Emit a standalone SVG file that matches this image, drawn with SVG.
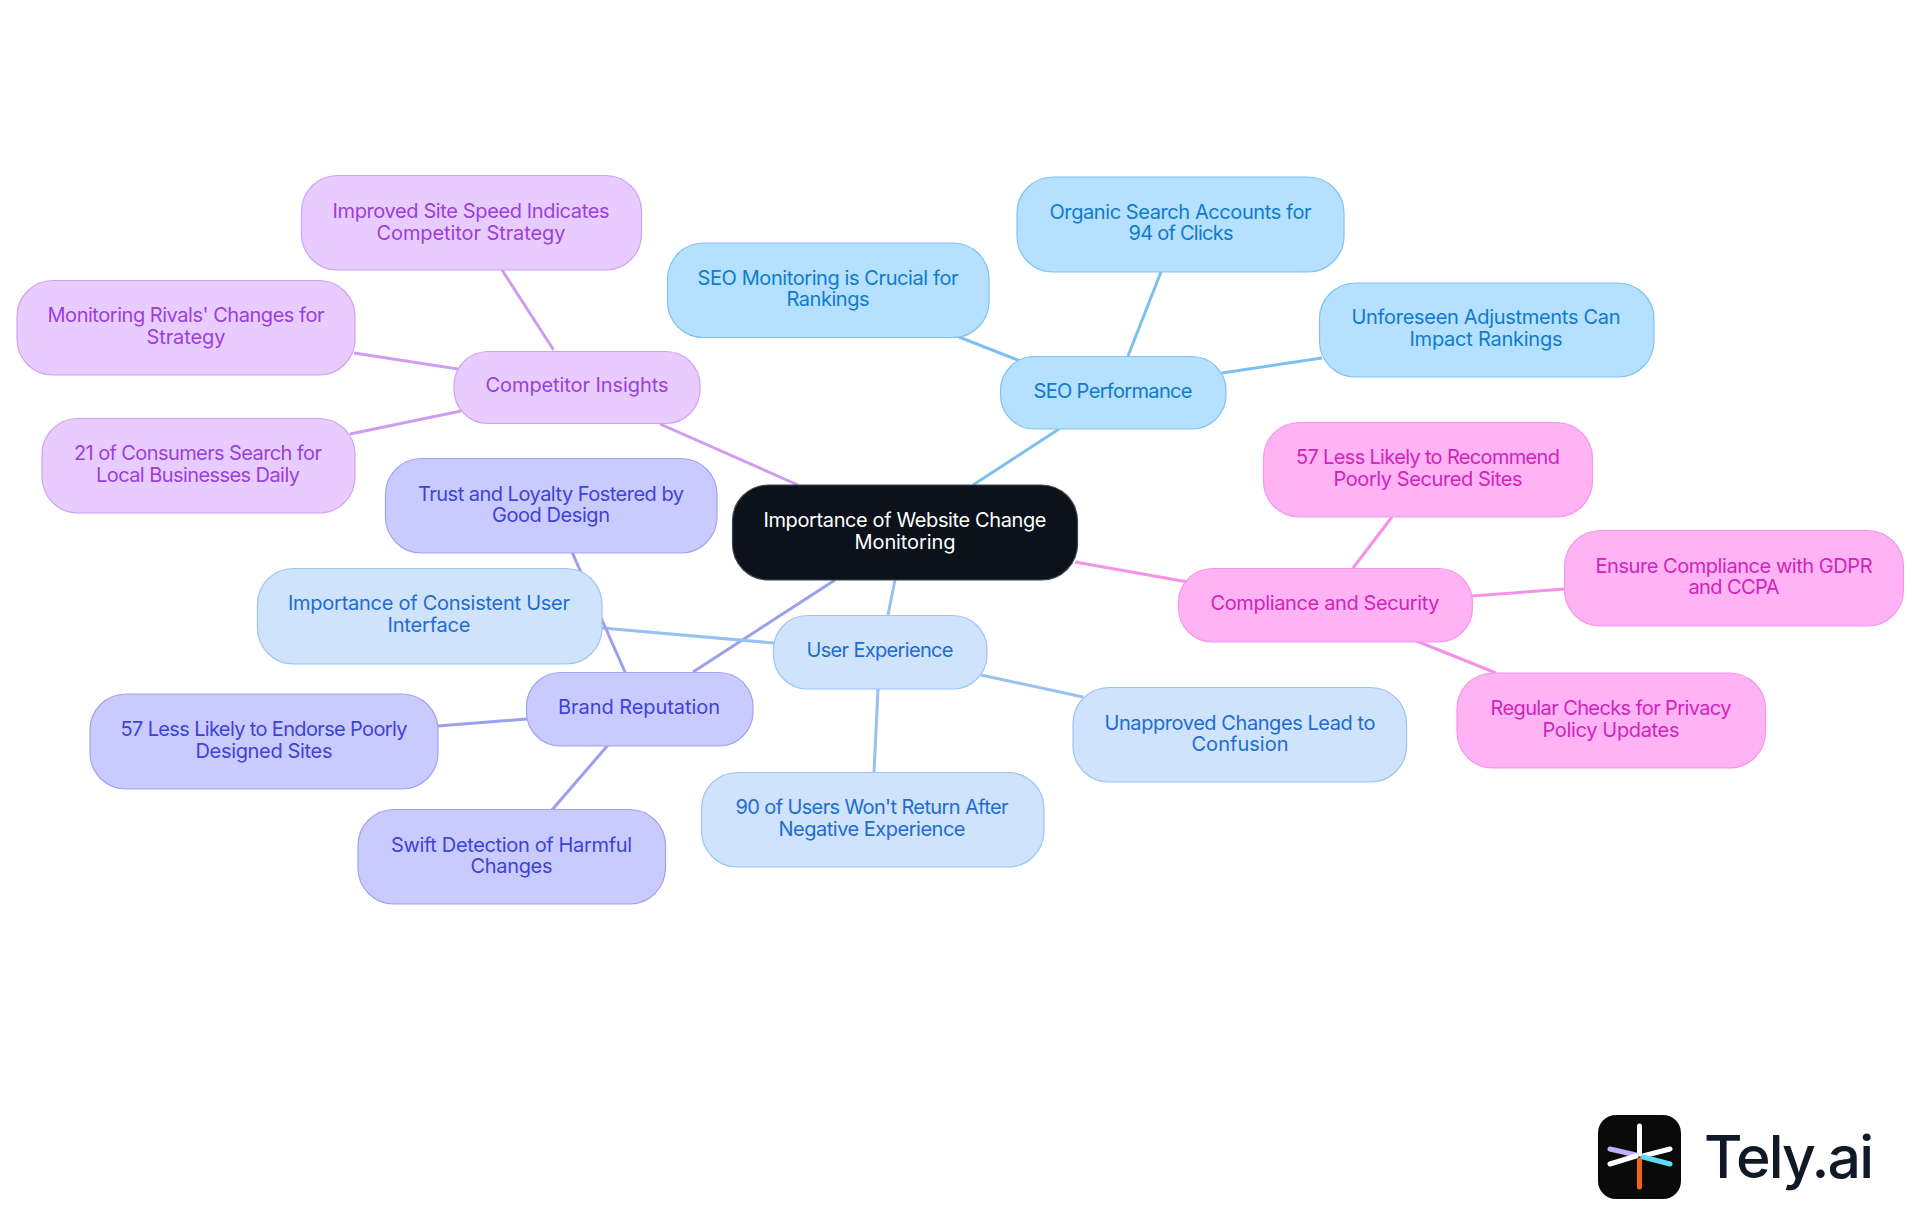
<svg xmlns="http://www.w3.org/2000/svg" width="1920" height="1215" viewBox="0 0 1920 1215">
<style>
text{font-family:"Inter","Noto Sans","Liberation Sans",sans-serif;font-size:20px;font-weight:400;text-anchor:middle}
rect{stroke-width:1.2}
#connectors line{stroke-width:3;fill:none}
.root rect{fill:#0b121b;stroke:#3f444b}.root text{fill:#fff}
.pu rect{fill:#e9ccff;stroke:#d0a2f2}.pu text{fill:#9a3fdc}
.se rect{fill:#b5e0ff;stroke:#80c2f0}.se text{fill:#0f7bcc}
.ux rect{fill:#cfe3fc;stroke:#9cc4f3}.ux text{fill:#216cd0}
.pk rect{fill:#ffb3f5;stroke:#f596e6}.pk text{fill:#d024bc}
.in rect{fill:#c9cbff;stroke:#a0a3f0}.in text{fill:#3f42d6}
.lp{stroke:#cf9df0}.ls{stroke:#7cc0f0}.lu{stroke:#97c1f2}.lk{stroke:#f592e6}.li{stroke:#9b9fee}
</style>
<rect width="1920" height="1215" fill="#fff" stroke="none"/>
<g id="connectors">
<line class="lp" x1="660" y1="424" x2="798" y2="485"/>
<line class="ls" x1="973" y1="485" x2="1059" y2="429"/>
<line class="lk" x1="1075" y1="562" x2="1188" y2="582"/>
<line class="lu" x1="895" y1="580" x2="888" y2="615"/>
<line class="li" x1="835" y1="580" x2="693" y2="672"/>
<line class="lp" x1="502" y1="270" x2="553.6" y2="350"/>
<line class="lp" x1="354" y1="353" x2="458" y2="369"/>
<line class="lp" x1="350" y1="434" x2="461" y2="411"/>
<line class="ls" x1="959" y1="337" x2="1020" y2="361"/>
<line class="ls" x1="1161" y1="272" x2="1128" y2="356"/>
<line class="ls" x1="1222" y1="373" x2="1322" y2="358"/>
<line class="lk" x1="1392" y1="517" x2="1353" y2="568"/>
<line class="lk" x1="1472" y1="596" x2="1565" y2="589"/>
<line class="lk" x1="1414" y1="640" x2="1496" y2="673"/>
<line class="lu" x1="602" y1="628" x2="774" y2="643"/>
<line class="lu" x1="981" y1="675" x2="1083" y2="697"/>
<line class="lu" x1="878" y1="689" x2="874" y2="772"/>
<line class="li" x1="572" y1="552" x2="625" y2="672"/>
<line class="li" x1="438" y1="726" x2="527" y2="719"/>
<line class="li" x1="608" y1="745" x2="552" y2="810"/>
</g>
<g id="n-root" class="root"><rect x="732.500" y="485" width="345" height="95" rx="36"/><text x="905" y="527" textLength="283">Importance of Website Change</text><text x="905" y="549" textLength="101">Monitoring</text></g>
<g id="n-competitor" class="pu"><rect x="454" y="351.500" width="246" height="72" rx="34"/><text x="577" y="392" textLength="183">Competitor Insights</text></g>
<g id="n-improved" class="pu"><rect x="301.500" y="175.500" width="340" height="94.500" rx="36"/><text x="471" y="218" textLength="277">Improved Site Speed Indicates</text><text x="471" y="239.500" textLength="189">Competitor Strategy</text></g>
<g id="n-rivals" class="pu"><rect x="17" y="280.500" width="338" height="94.500" rx="36"/><text x="186" y="322" textLength="277">Monitoring Rivals' Changes for</text><text x="186" y="344" textLength="79">Strategy</text></g>
<g id="n-consumers" class="pu"><rect x="42" y="418.500" width="313" height="94.500" rx="36"/><text x="198" y="460" textLength="248">21 of Consumers Search for</text><text x="198" y="482" textLength="204">Local Businesses Daily</text></g>
<g id="n-seo" class="se"><rect x="1000.500" y="356.500" width="225.500" height="72.500" rx="34"/><text x="1113" y="398" textLength="159">SEO Performance</text></g>
<g id="n-seomon" class="se"><rect x="667.500" y="243" width="321.500" height="94.500" rx="36"/><text x="828" y="285" textLength="261">SEO Monitoring is Crucial for</text><text x="828" y="306" textLength="83">Rankings</text></g>
<g id="n-organic" class="se"><rect x="1017" y="177" width="327" height="95" rx="36"/><text x="1180.500" y="219" textLength="262">Organic Search Accounts for</text><text x="1181" y="240" textLength="105">94 of Clicks</text></g>
<g id="n-unforeseen" class="se"><rect x="1319.500" y="283" width="334.500" height="94" rx="36"/><text x="1486" y="324" textLength="269">Unforeseen Adjustments Can</text><text x="1486" y="346" textLength="153">Impact Rankings</text></g>
<g id="n-compliance" class="pk"><rect x="1178.500" y="568.500" width="294" height="73.500" rx="34"/><text x="1325" y="610" textLength="229">Compliance and Security</text></g>
<g id="n-recommend" class="pk"><rect x="1263.500" y="422.500" width="329" height="94.500" rx="36"/><text x="1428" y="464" textLength="264">57 Less Likely to Recommend</text><text x="1428" y="486" textLength="189">Poorly Secured Sites</text></g>
<g id="n-gdpr" class="pk"><rect x="1564.500" y="530.500" width="339" height="95.500" rx="36"/><text x="1734" y="573" textLength="277">Ensure Compliance with GDPR</text><text x="1734" y="594" textLength="91">and CCPA</text></g>
<g id="n-privacy" class="pk"><rect x="1457" y="673" width="308.500" height="95" rx="36"/><text x="1611" y="715" textLength="241">Regular Checks for Privacy</text><text x="1611" y="737" textLength="137">Policy Updates</text></g>
<g id="n-ux" class="ux"><rect x="773.500" y="615.500" width="213.500" height="73.500" rx="34"/><text x="880" y="657" textLength="147">User Experience</text></g>
<g id="n-interface" class="ux"><rect x="257.500" y="568.500" width="344.500" height="95.500" rx="36"/><text x="429" y="610" textLength="282">Importance of Consistent User</text><text x="429" y="632" textLength="83">Interface</text></g>
<g id="n-unapproved" class="ux"><rect x="1073" y="687.500" width="333.500" height="94.500" rx="36"/><text x="1240" y="730" textLength="271">Unapproved Changes Lead to</text><text x="1240" y="751" textLength="97">Confusion</text></g>
<g id="n-return" class="ux"><rect x="701.500" y="772.500" width="342.500" height="94.500" rx="36"/><text x="872" y="814" textLength="273">90 of Users Won't Return After</text><text x="872" y="836" textLength="187">Negative Experience</text></g>
<g id="n-brand" class="in"><rect x="526.500" y="672.500" width="226.500" height="73.500" rx="34"/><text x="639" y="714" textLength="162">Brand Reputation</text></g>
<g id="n-trust" class="in"><rect x="385.500" y="458.500" width="331.500" height="94.500" rx="36"/><text x="551" y="500.500" textLength="266">Trust and Loyalty Fostered by</text><text x="551" y="522" textLength="118">Good Design</text></g>
<g id="n-endorse" class="in"><rect x="90" y="694" width="348" height="95" rx="36"/><text x="264" y="736" textLength="287">57 Less Likely to Endorse Poorly</text><text x="264" y="758" textLength="137">Designed Sites</text></g>
<g id="n-swift" class="in"><rect x="358" y="809.500" width="307.500" height="94.500" rx="36"/><text x="511.500" y="852" textLength="241">Swift Detection of Harmful</text><text x="511.500" y="873" textLength="82">Changes</text></g>
<g id="logo">
<rect x="1598" y="1115" width="83" height="84" rx="18" fill="#0a0a0a" stroke="none"/>
<g stroke-width="5" stroke-linecap="round" fill="none">
<path d="M1639.500 1126V1154" stroke="#fff"/>
<path d="M1639.500 1160V1187" stroke="#f2640f"/>
<path d="M1610 1149L1636 1155" stroke="#c4aef5"/>
<path d="M1610 1164L1636 1156" stroke="#fff"/>
<path d="M1670 1149L1643 1156" stroke="#fff"/>
<path d="M1670 1164L1643 1157" stroke="#5fdcf0"/>
</g>
<text x="1789" y="1178" textLength="170" style="font-size:59px;font-weight:450;fill:#101a27">Tely.ai</text>
</g>
</svg>
